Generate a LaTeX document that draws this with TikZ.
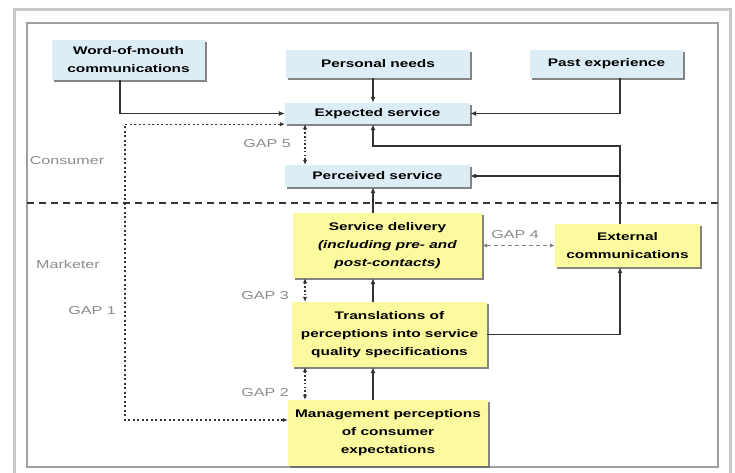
\documentclass[tikz,border=0pt]{standalone}
\usepackage{fontspec}
\newfontfamily\diagfont[FakeStretch=1.4]{Liberation Sans}
\usetikzlibrary{arrows.meta,shadows}

\definecolor{boxblue}{HTML}{DDEDF6}
\definecolor{boxyellow}{HTML}{FCFA9E}
\definecolor{framegray}{HTML}{C8C8C8}
\definecolor{linegray}{HTML}{333333}
\definecolor{textgray}{HTML}{8C8C8C}

\begin{document}
\begin{tikzpicture}[x = 1pt, y = -1pt,
  box/.style = {inner sep = 2pt, align = center, font = \diagfont\bfseries\fontsize{11}{18}\selectfont,
    drop shadow = {shadow xshift = 2pt, shadow yshift = -2pt, fill = black!60, opacity = 0.8}},
  bluebox/.style = {box, fill = boxblue},
  yellowbox/.style = {box, fill = boxyellow},
  conn/.style = {draw = linegray, line width = 1.8pt, -{Latex[length = 6pt, width = 5pt]}},
  gaparrow/.style = {draw = linegray, line width = 1.5pt, dash pattern = on 1.5pt off 2.2pt,
    {Latex[length = 5pt, width = 4.5pt]}-{Latex[length = 5pt, width = 4.5pt]}},
  gapone/.style = {gaparrow, line width = 1.3pt, dash pattern = on 2pt off 2.5pt},
  gapfour/.style = {gaparrow, draw = gray, line width = 1.3pt, dash pattern = on 4pt off 3pt},
  sidetext/.style = {text = textgray, font = \diagfont\fontsize{11.5}{13}\selectfont}
]
\useasboundingbox (0,0) rectangle (735,473);
\fill[white] (0,0) rectangle (735,473);
\draw[framegray, line width = 3pt] (14,10) rectangle (730,480);
\draw[framegray!80!black, line width = 1.2pt] (27,23) rectangle (718,467);

\node[bluebox, minimum width = 153pt, minimum height = 40pt] (wom) at (128.5,60) {Word-of-mouth\\communications};
\node[bluebox, minimum width = 184pt, minimum height = 28pt] (needs) at (378,64) {Personal needs};
\node[bluebox, minimum width = 153pt, minimum height = 28pt] (past) at (606.5,64) {Past experience};
\node[bluebox, minimum width = 185pt, minimum height = 21pt] (expected) at (377.5,113.5) {Expected service};
\node[bluebox, minimum width = 185pt, minimum height = 22pt] (perceived) at (377.5,176) {Perceived service};
\node[yellowbox, minimum width = 189pt, minimum height = 65pt] (delivery) at (387.5,245.5) {Service delivery\\\textit{(including pre- and}\\\textit{post-contacts)}};
\node[yellowbox, minimum width = 145pt, minimum height = 43pt] (external) at (627.5,245.5) {External\\communications};
\node[yellowbox, minimum width = 195pt, minimum height = 65pt] (transl) at (389.5,334.5) {Translations of\\perceptions into service\\quality specifications};
\node[yellowbox, minimum width = 200pt, minimum height = 66pt] (mgmt) at (388,433) {Management perceptions\\of consumer\\expectations};

\node[sidetext] (consumer) at (67,161) {Consumer};
\node[sidetext] (marketer) at (68,264) {Marketer};
\node[sidetext] (gap1) at (92,311) {GAP 1};
\node[sidetext] (gap5) at (267,144) {GAP 5};
\node[sidetext] (gap3) at (265,296) {GAP 3};
\node[sidetext] (gap2) at (265,393) {GAP 2};
\node[sidetext] (gap4) at (515,235) {GAP 4};

\draw[linegray, line width = 2.2pt, dash pattern = on 7pt off 5pt] (27,203) -- (718,203);

\coordinate (col) at (373,0);
\coordinate (rail) at (620,0);
\coordinate (womx) at (120,0);
\coordinate (gapx) at (305,0);
\coordinate (bend) at (373,146);
\coordinate (gapcorner) at (125,420);

\draw[conn] (wom.south -| womx) |- (expected.west);
\draw[conn] (needs.south -| col) -- (expected.north -| col);
\draw[conn] (past.south -| rail) |- (expected.east);
\draw[conn] (external.north -| rail) |- (bend) -- (expected.south -| col);
\draw[conn] (rail |- perceived.east) -- (perceived.east);
\draw[conn] (delivery.north -| col) -- (perceived.south -| col);
\draw[conn] (transl.north -| col) -- (delivery.south -| col);
\draw[conn] (mgmt.north -| col) -- (transl.south -| col);
\draw[conn] (transl.east) -| (external.south -| rail);

\draw[gaparrow] (expected.south -| gapx) -- (perceived.north -| gapx);
\draw[gaparrow] (delivery.south -| gapx) -- (transl.north -| gapx);
\draw[gaparrow] (transl.south -| gapx) -- (mgmt.north -| gapx);
\draw[gapfour] (delivery.east) -- (external.west);
\draw[gapone] (expected.south west) -| (gapcorner) -- (gapcorner -| mgmt.west);
\end{tikzpicture}
\end{document}
